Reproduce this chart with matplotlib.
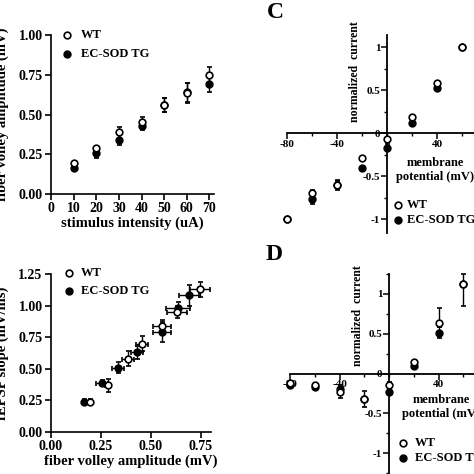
import matplotlib

matplotlib.use("Agg")
import matplotlib.pyplot as plt  # noqa: E402
from matplotlib.ticker import MultipleLocator  # noqa: E402

plt.rcParams["font.family"] = ["Liberation Serif", "DejaVu Serif"]
plt.rcParams["font.weight"] = "bold"
plt.rcParams["axes.labelweight"] = "bold"

# panel A: fiber volley vs stimulus
stim = [10, 20, 30, 40, 50, 60, 70]
fv_wt = [0.195, 0.287, 0.388, 0.455, 0.56, 0.635, 0.75]
fv_wt_err = [0.01, 0.015, 0.035, 0.03, 0.045, 0.06, 0.05]
fv_tg = [0.166, 0.255, 0.34, 0.43, 0.56, 0.64, 0.69]
fv_tg_err = [0.01, 0.03, 0.03, 0.03, 0.045, 0.06, 0.05]

# panel B: fEPSP slope vs fiber volley
b_wt_x = [0.195, 0.285, 0.387, 0.457, 0.557, 0.628, 0.745]
b_wt_xerr = [0.01, 0.015, 0.03, 0.03, 0.045, 0.05, 0.05]
b_wt_y = [0.24, 0.37, 0.58, 0.70, 0.84, 0.95, 1.13]
b_wt_yerr = [0.02, 0.05, 0.06, 0.06, 0.05, 0.05, 0.06]
b_tg_x = [0.167, 0.255, 0.337, 0.428, 0.557, 0.637, 0.69]
b_tg_xerr = [0.01, 0.03, 0.03, 0.03, 0.045, 0.06, 0.05]
b_tg_y = [0.24, 0.39, 0.51, 0.63, 0.79, 0.98, 1.08]
b_tg_yerr = [0.02, 0.02, 0.04, 0.05, 0.08, 0.05, 0.08]

# panels C and D: I-V curves
volt = [-80, -60, -40, -20, 0, 20, 40, 60]
c_wt = [-1.0, -0.69, -0.60, -0.29, -0.07, 0.19, 0.58, 1.0]
c_wt_err = [0.0, 0.03, 0.06, 0.02, 0.02, 0.02, 0.03, 0.0]
c_tg = [-1.0, -0.76, -0.60, -0.41, -0.17, 0.12, 0.53, 1.0]
c_tg_err = [0.0, 0.06, 0.04, 0.02, 0.04, 0.03, 0.03, 0.0]

d_wt = [-0.12, -0.14, -0.23, -0.32, -0.14, 0.15, 0.63, 1.12]
d_wt_lo = [0.02, 0.02, 0.08, 0.10, 0.03, 0.02, 0.05, 0.27]
d_wt_hi = [0.02, 0.02, 0.08, 0.10, 0.03, 0.02, 0.19, 0.13]
d_tg = [-0.14, -0.17, -0.20, -0.32, -0.23, 0.09, 0.51, 1.12]
d_tg_err = [0.02, 0.02, 0.03, 0.03, 0.04, 0.02, 0.07, 0.0]

S = 474.0
fig = plt.figure(figsize=(4.74, 4.74), dpi=100)


def box(x0, x1, ytop, ybot):
    return [x0 / S, 1 - ybot / S, (x1 - x0) / S, (ybot - ytop) / S]


mk = dict(ms=4.8, mew=1.2, capsize=1.8, elinewidth=1.0, capthick=1.0,
          ecolor="black", ls="none", clip_on=False)


def plot_pair(ax, x, y_tg, y_wt, tg_err=None, wt_err=None, tg_xerr=None, wt_xerr=None):
    ax.errorbar(x if tg_xerr is None else x[0], y_tg, yerr=tg_err, xerr=tg_xerr,
                fmt="o", mfc="black", mec="black", zorder=3, **mk)
    ax.errorbar(x if wt_xerr is None else x[1], y_wt, yerr=wt_err, xerr=wt_xerr,
                fmt="o", mfc="white", mec="black", zorder=4, **mk)


def left_style(ax):
    for s in ("top", "right"):
        ax.spines[s].set_visible(False)
    for s in ("left", "bottom"):
        ax.spines[s].set_linewidth(1.2)
    ax.tick_params(direction="out", length=4, width=1.2, labelsize=10, pad=2)


def legend_marks(ax, x, y1, y2, tx):
    ax.plot([x], [y1], "o", ms=4.8, mfc="white", mec="black", mew=1.2,
            transform=fig.transFigure, clip_on=False)
    ax.plot([x], [y2], "o", ms=4.8, mfc="black", mec="black", mew=1.2,
            transform=fig.transFigure, clip_on=False)
    fig.text(tx, y1, "WT", fontsize=9, va="center", fontweight="bold")
    fig.text(tx, y2, "EC-SOD TG", fontsize=9, va="center", fontweight="bold")


# A
axA = fig.add_axes(box(51, 214, 35, 194))
plot_pair(axA, stim, fv_tg, fv_wt, fv_tg_err, fv_wt_err)
axA.set_xlim(0, 72)
axA.set_ylim(0, 1.0)
axA.set_xticks(range(0, 80, 10))
axA.set_yticks([0, 0.25, 0.5, 0.75, 1.0])
axA.set_yticklabels(["0.00", "0.25", "0.50", "0.75", "1.00"])
left_style(axA)
axA.set_xlabel("stimulus intensity (uA)", fontsize=10.5, labelpad=1)
axA.set_ylabel("fiber volley amplitude (mV)", fontsize=10.5)
axA.yaxis.set_label_coords(-0.255, 0.5)
legend_marks(axA, 67 / S, 1 - 35 / S, 1 - 54 / S, 81 / S)

# B
axB = fig.add_axes(box(51, 211, 274, 432))
plot_pair(axB, (b_tg_x, b_wt_x), b_tg_y, b_wt_y, b_tg_yerr, b_wt_yerr,
          tg_xerr=b_tg_xerr, wt_xerr=b_wt_xerr)
axB.set_xlim(0, 0.8)
axB.set_ylim(0, 1.25)
axB.set_xticks([0, 0.25, 0.5, 0.75])
axB.set_xticklabels(["0.00", "0.25", "0.50", "0.75"])
axB.set_yticks([0, 0.25, 0.5, 0.75, 1.0, 1.25])
axB.set_yticklabels(["0.00", "0.25", "0.50", "0.75", "1.00", "1.25"])
left_style(axB)
axB.set_xlabel("fiber volley amplitude (mV)", fontsize=10.5, labelpad=1)
axB.set_ylabel("fEPSP slope (mV/ms)", fontsize=10.5)
axB.yaxis.set_label_coords(-0.26, 0.5)
legend_marks(axB, 69 / S, 1 - 273 / S, 1 - 291 / S, 81 / S)


def iv_style(ax, ylo, yhi):
    ax.set_xlim(-80, 75)
    ax.set_ylim(ylo, yhi)
    ax.spines["left"].set_position(("data", 0))
    ax.spines["bottom"].set_position(("data", 0))
    ax.spines["left"].set_bounds(ylo, yhi)
    for s in ("top", "right"):
        ax.spines[s].set_visible(False)
    for s in ("left", "bottom"):
        ax.spines[s].set_linewidth(1.3)
    ax.set_xticks([-80, -40, 40])
    ax.set_xticklabels(["-80", "-40", "40"])
    ax.xaxis.set_minor_locator(MultipleLocator(20))
    ax.set_yticks([-1, -0.5, 0, 0.5, 1])
    ax.set_yticklabels(["-1", "-0.5", "0", "0.5", "1"])
    ax.yaxis.set_minor_locator(MultipleLocator(0.25))
    ax.tick_params(which="major", direction="out", length=4, width=1.1,
                   labelsize=8, pad=1)
    ax.tick_params(which="minor", direction="out", length=2.5, width=1.0)
    ax.patch.set_alpha(0)


# C
axC = fig.add_axes(box(287, 481, 35, 233))
plot_pair(axC, volt, c_tg, c_wt, c_tg_err, c_wt_err)
iv_style(axC, -1.16, 1.14)
fig.text(275 / S, 1 - 13 / S, "C", fontsize=17, fontweight="bold",
         ha="center", va="center")
fig.text(355 / S, 1 - 72 / S, "normalized  current", rotation=90, fontsize=8.5,
         ha="center", va="center", fontweight="bold")
fig.text(435 / S, 1 - 170 / S, "membrane\npotential (mV)", fontsize=9,
         ha="center", va="center", fontweight="bold", linespacing=1.3)
legend_marks(axC, 398 / S, 1 - 205 / S, 1 - 220 / S, 407 / S)

# D
axD = fig.add_axes(box(290, 482, 274, 473))
axD.errorbar(volt, d_tg, yerr=d_tg_err, fmt="o", mfc="black", mec="black",
             zorder=3, **mk)
axD.errorbar(volt, d_wt, yerr=[d_wt_lo, d_wt_hi], fmt="o", mfc="white",
             mec="black", zorder=4, **mk)
iv_style(axD, -1.25, 1.25)
fig.text(274 / S, 1 - 255 / S, "D", fontsize=17, fontweight="bold",
         ha="center", va="center")
fig.text(358 / S, 1 - 316 / S, "normalized  current", rotation=90, fontsize=8.5,
         ha="center", va="center", fontweight="bold")
fig.text(441 / S, 1 - 407 / S, "membrane\npotential (mV)", fontsize=9,
         ha="center", va="center", fontweight="bold", linespacing=1.3)
legend_marks(axD, 403 / S, 1 - 443 / S, 1 - 458 / S, 415 / S)

fig.savefig("out.png", dpi=100)
plt.close(fig)
